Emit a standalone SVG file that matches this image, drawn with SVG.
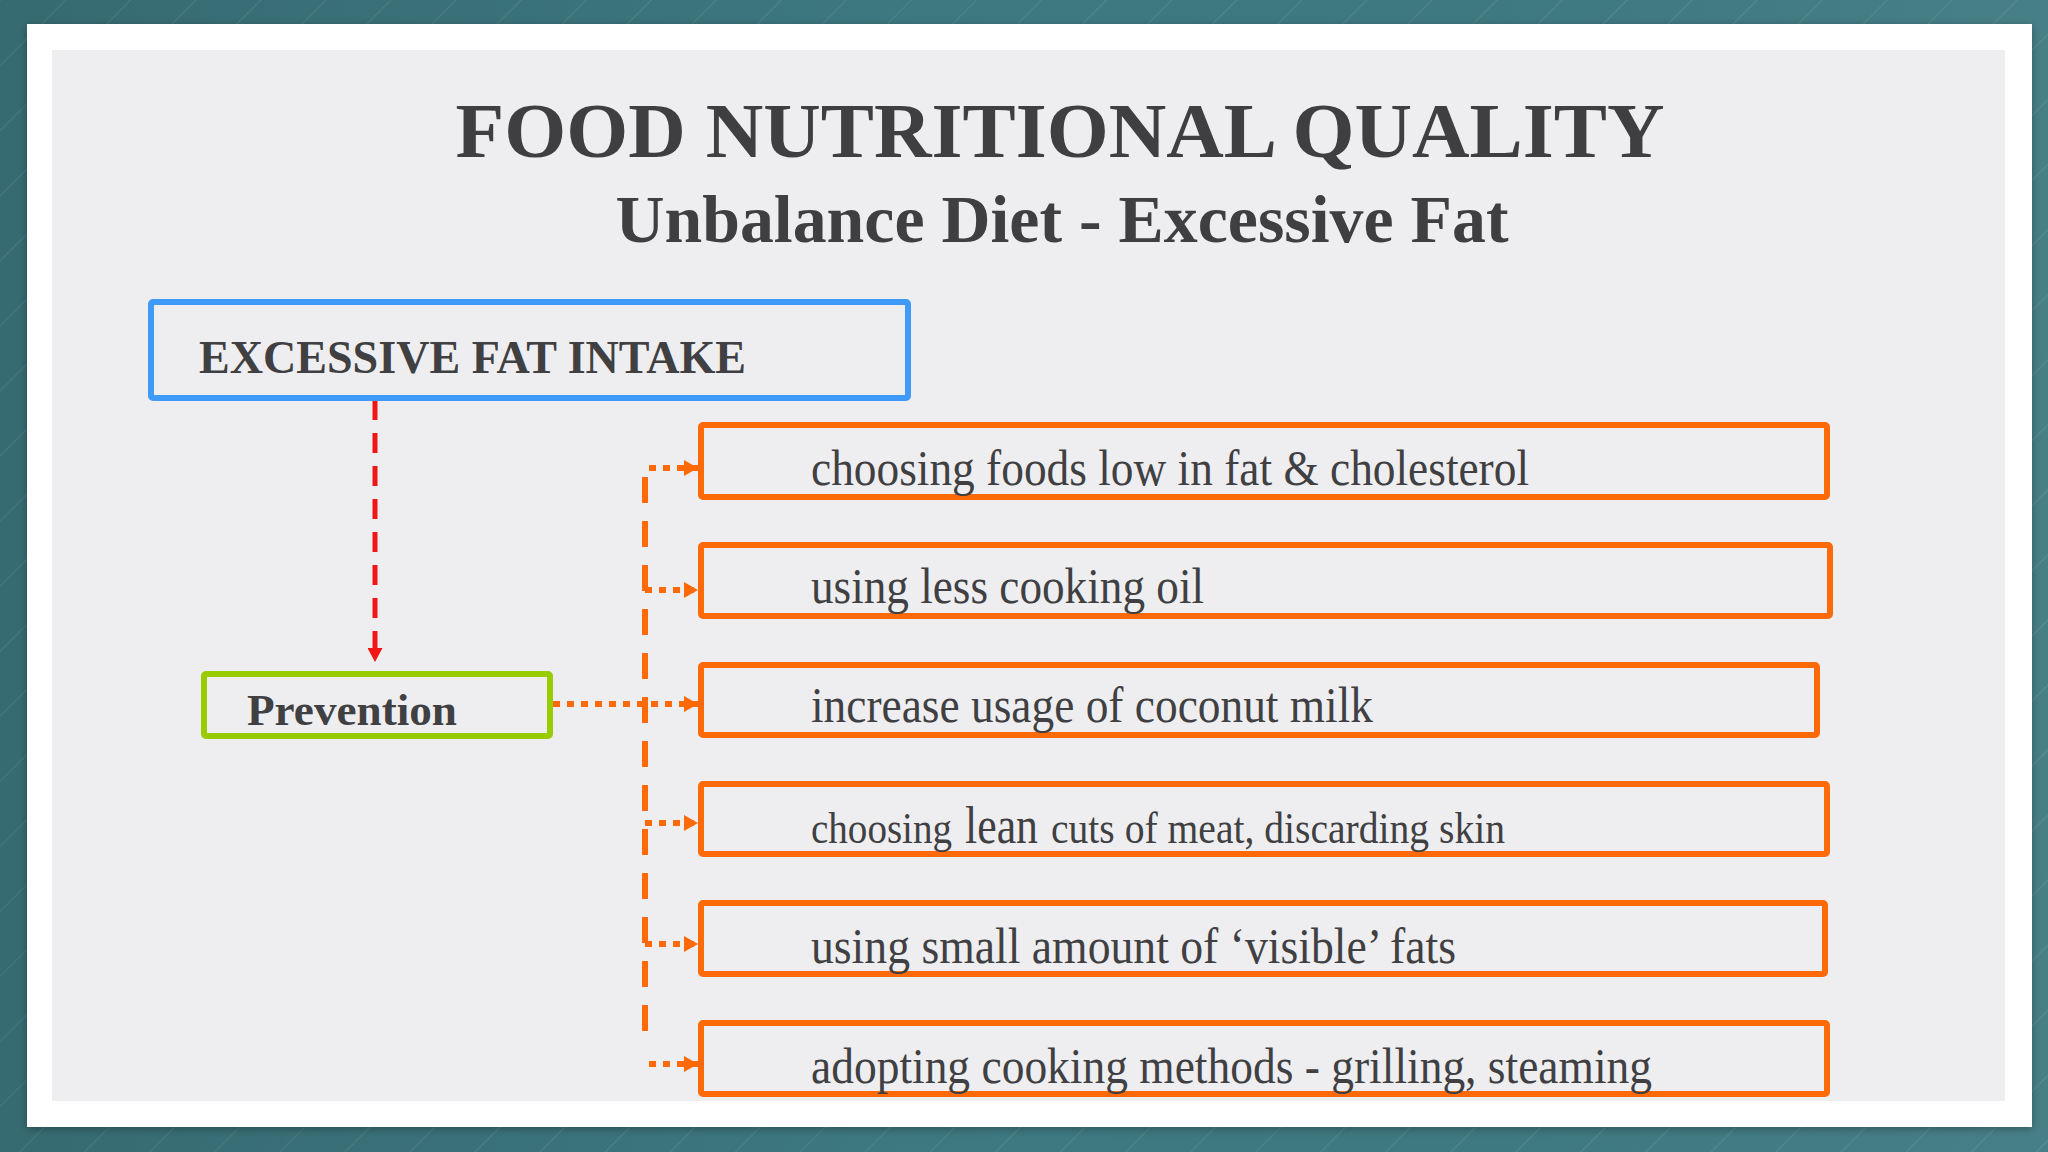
<svg xmlns="http://www.w3.org/2000/svg" width="2048" height="1152" viewBox="0 0 2048 1152">
  <defs>
    <pattern id="stripes" width="46" height="46" patternUnits="userSpaceOnUse" patternTransform="rotate(45)">
      <rect width="46" height="46" fill="#3e7981"/>
      <line x1="0" y1="0" x2="0" y2="46" stroke="#ffffff" stroke-opacity="0.13" stroke-width="1.6"/>
    </pattern>
    <linearGradient id="shade" x1="0" y1="0" x2="1" y2="0">
      <stop offset="0" stop-color="#000" stop-opacity="0.12"/>
      <stop offset="0.5" stop-color="#000" stop-opacity="0"/>
      <stop offset="1" stop-color="#fff" stop-opacity="0.05"/>
    </linearGradient>
    <filter id="shadow" x="-5%" y="-5%" width="110%" height="110%">
      <feDropShadow dx="0" dy="2" stdDeviation="4" flood-color="#000" flood-opacity="0.3"/>
    </filter>
    <marker id="arrowOrange" viewBox="0 0 14 16" markerWidth="14" markerHeight="16" refX="14" refY="8" orient="auto" markerUnits="userSpaceOnUse">
      <path d="M0,0 L14,8 L0,16 Z" fill="#ff6a08"/>
    </marker>
    <marker id="arrowRed" viewBox="0 0 14 15" markerWidth="14" markerHeight="15" refX="14" refY="7.5" orient="auto" markerUnits="userSpaceOnUse">
      <path d="M0,0 L14,7.5 L0,15 Z" fill="#f01616"/>
    </marker>
  </defs>
  <style>
    .title { font-family: "Liberation Serif", "Times New Roman", serif; font-weight: bold; fill: #3f3f42; text-anchor: middle; }
    .nodeText { font-family: "Liberation Serif", "Times New Roman", serif; fill: #404043; }
    .bold { font-weight: bold; }
    .orangeBox { fill: none; stroke: #ff6a08; stroke-width: 6; }
    .dot { fill: none; stroke: #ff6a08; stroke-width: 6; stroke-dasharray: 7 7; }
    .dash { fill: none; stroke: #ff6a08; stroke-width: 6; stroke-dasharray: 26 18; }
  </style>

  <!-- background -->
  <rect x="0" y="0" width="2048" height="1152" fill="url(#stripes)"/>
  <rect x="0" y="0" width="2048" height="1152" fill="url(#shade)"/>
  <rect x="27" y="24" width="2005" height="1103" fill="#ffffff" filter="url(#shadow)"/>
  <rect x="52" y="50" width="1953" height="1051" fill="#eeeef0"/>

  <!-- titles -->
  <text class="title" x="1060" y="157" font-size="79" textLength="1209" lengthAdjust="spacingAndGlyphs">FOOD NUTRITIONAL QUALITY</text>
  <text class="title" x="1062" y="242" font-size="68" textLength="893" lengthAdjust="spacingAndGlyphs">Unbalance Diet - Excessive Fat</text>

  <!-- connectors -->
  <g id="connectors">
    <path d="M375,400 V662" fill="none" stroke="#f01616" stroke-width="5" stroke-dasharray="20 13" marker-end="url(#arrowRed)"/>
    <path class="dash" d="M645,477 V1048"/>
    <path class="dot" d="M553,704 H698" marker-end="url(#arrowOrange)"/>
    <path class="dot" d="M649,468 H698" marker-end="url(#arrowOrange)"/>
    <path class="dot" d="M645,590 H698" marker-end="url(#arrowOrange)"/>
    <path class="dot" d="M645,823 H698" marker-end="url(#arrowOrange)"/>
    <path class="dot" d="M645,944 H698" marker-end="url(#arrowOrange)"/>
    <path class="dot" d="M649,1064 H698" marker-end="url(#arrowOrange)"/>
  </g>

  <!-- nodes -->
  <g id="node-excessive">
    <rect x="151" y="302" width="757" height="96" rx="2" fill="none" stroke="#3f9bf7" stroke-width="6"/>
    <text class="nodeText bold" x="199" y="373" font-size="47" textLength="547" lengthAdjust="spacingAndGlyphs">EXCESSIVE FAT INTAKE</text>
  </g>
  <g id="node-prevention">
    <rect x="204" y="674" width="346" height="62" rx="2" fill="none" stroke="#99cc00" stroke-width="6"/>
    <text class="nodeText bold" x="247" y="725" font-size="45" textLength="210" lengthAdjust="spacingAndGlyphs">Prevention</text>
  </g>
  <g id="node-1">
    <rect class="orangeBox" x="701" y="425" width="1126" height="72" rx="2"/>
    <text class="nodeText" x="811" y="485" font-size="50" textLength="718" lengthAdjust="spacingAndGlyphs">choosing foods low in fat &amp; cholesterol</text>
  </g>
  <g id="node-2">
    <rect class="orangeBox" x="701" y="545" width="1129" height="71" rx="2"/>
    <text class="nodeText" x="811" y="603" font-size="50" textLength="393" lengthAdjust="spacingAndGlyphs">using less cooking oil</text>
  </g>
  <g id="node-3">
    <rect class="orangeBox" x="701" y="665" width="1116" height="70" rx="2"/>
    <text class="nodeText" x="811" y="722" font-size="50" textLength="562" lengthAdjust="spacingAndGlyphs">increase usage of coconut milk</text>
  </g>
  <g id="node-4">
    <rect class="orangeBox" x="701" y="784" width="1126" height="70" rx="2"/>
    <text class="nodeText" x="811" y="843" font-size="44" textLength="141" lengthAdjust="spacingAndGlyphs">choosing</text>
    <text class="nodeText" x="965" y="843" font-size="52" textLength="73" lengthAdjust="spacingAndGlyphs">lean</text>
    <text class="nodeText" x="1051" y="843" font-size="44" textLength="454" lengthAdjust="spacingAndGlyphs">cuts of meat, discarding skin</text>
  </g>
  <g id="node-5">
    <rect class="orangeBox" x="701" y="903" width="1124" height="71" rx="2"/>
    <text class="nodeText" x="811" y="963" font-size="50" textLength="645" lengthAdjust="spacingAndGlyphs">using small amount of ‘visible’ fats</text>
  </g>
  <g id="node-6">
    <rect class="orangeBox" x="701" y="1023" width="1126" height="71" rx="2"/>
    <text class="nodeText" x="811" y="1083" font-size="50" textLength="841" lengthAdjust="spacingAndGlyphs">adopting cooking methods - grilling, steaming</text>
  </g>
</svg>
